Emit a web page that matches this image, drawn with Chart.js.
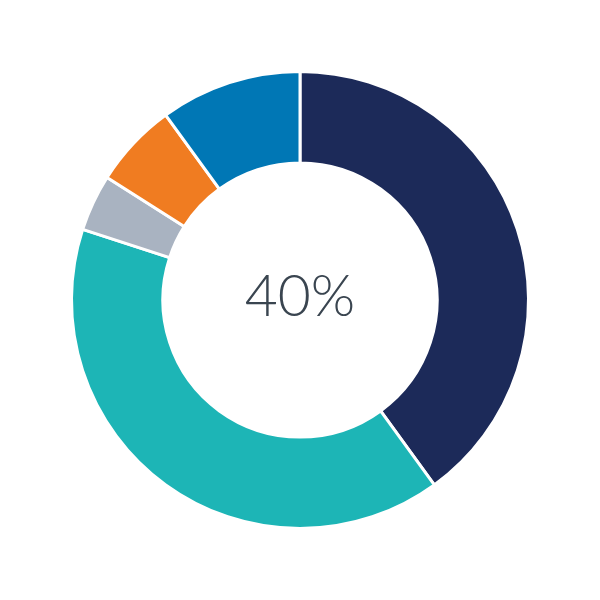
<!DOCTYPE html>
<html>
<head>
<meta charset="utf-8">
<script src="https://cdn.jsdelivr.net/npm/chart.js@4"></script>
<style>
  html, body { margin: 0; padding: 0; background: #fff; }
  #wrap { width: 600px; height: 600px; }
</style>
</head>
<body>
<div id="wrap"><canvas id="grafico"></canvas></div>
<script>
const categorias = ['A', 'B', 'C', 'D', 'E'];
const valores = [40, 40, 4, 6, 10];
const cores = ['#1c2a59', '#1db5b6', '#a9b3c1', '#f07c21', '#0077b5'];
const textoCentro = '40%';

// texto no meio do anel
const centroTexto = {
  id: 'centroTexto',
  afterDraw(chart) {
    const { ctx } = chart;
    const meta = chart.getDatasetMeta(0).data[0];
    ctx.save();
    ctx.font = '300 57px Lato';
    ctx.fillStyle = '#3a4550';
    ctx.textAlign = 'center';
    ctx.textBaseline = 'middle';
    ctx.fillText(textoCentro, meta.x, meta.y - 2);
    ctx.restore();
  }
};

new Chart(document.getElementById('grafico'), {
  type: 'doughnut',
  data: {
    labels: categorias,
    datasets: [{
      data: valores,
      backgroundColor: cores,
      borderColor: '#ffffff',
      borderWidth: 3
    }]
  },
  options: {
    responsive: true,
    maintainAspectRatio: false,
    animation: false,
    cutout: '60%',
    layout: { padding: 70 },
    plugins: {
      legend: { display: false },
      tooltip: { enabled: false }
    }
  },
  plugins: [centroTexto]
});
</script>
</body>
</html>
